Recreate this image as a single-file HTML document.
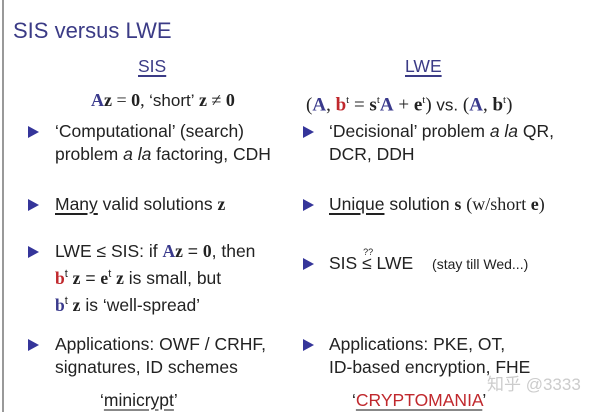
<!DOCTYPE html>
<html><head><meta charset="utf-8"><style>
body{margin:0;width:600px;height:412px;background:#fff;position:relative;overflow:hidden;font-family:"Liberation Sans","DejaVu Sans",sans-serif;color:#222;font-size:17.5px}
.a{position:absolute;white-space:nowrap;line-height:22px}
.m{font-family:"Liberation Serif",serif;font-size:18px}
.b{font-weight:bold;font-family:"Liberation Serif",serif}
.bl{color:#3a3a8c}.rd{color:#c0282d}
.tri{position:absolute;width:0;height:0;border-top:6px solid transparent;border-bottom:6px solid transparent;border-left:11px solid #35359a}
u{text-decoration-thickness:1.5px;text-underline-offset:3px}
sup{font-size:11px}
</style></head><body>
<div style="position:absolute;left:2px;top:0;width:2px;height:412px;background:#999"></div>
<div class="a" style="left:13px;top:18px;font-size:22px;line-height:26px;color:#3b3b86">SIS versus LWE</div>
<div class="a" style="left:138px;top:55px;color:#3b3b86"><u>SIS</u></div>
<div class="a" style="left:405px;top:55px;color:#3b3b86"><u>LWE</u></div>
<div class="a m" style="left:91px;top:89px"><span class="b bl">A</span><span class="b">z</span> = <span class="b">0</span>, <span style="font-family:'Liberation Sans',sans-serif;font-size:17px">‘short’</span> <span class="b">z</span> ≠ <span class="b">0</span></div>
<div class="a m" style="left:306px;top:89px;font-size:19px">(<span class="b bl">A</span>, <span class="b rd">b</span><sup>t</sup> = <span class="b">s</span><sup>t</sup><span class="b bl">A</span> + <span class="b">e</span><sup>t</sup>) <span style="font-family:'Liberation Sans',sans-serif;font-size:17px">vs.</span> (<span class="b bl">A</span>, <span class="b">b</span><sup>t</sup>)</div>

<div class="tri" style="left:28px;top:126px"></div>
<div class="a" style="left:55px;top:120px;line-height:23px">‘Computational’ (search)<br>problem <i>a la</i> factoring, CDH</div>
<div class="tri" style="left:303px;top:126px"></div>
<div class="a" style="left:329px;top:120px;line-height:23px">‘Decisional’ problem <i>a la</i> QR,<br>DCR, DDH</div>

<div class="tri" style="left:28px;top:199px"></div>
<div class="a" style="left:55px;top:193px"><u>Many</u> valid solutions <span class="b">z</span></div>
<div class="tri" style="left:303px;top:199px"></div>
<div class="a" style="left:329px;top:193px"><u>Unique</u> solution <span class="b">s</span> <span class="m">(w/short <span class="b">e</span>)</span></div>

<div class="tri" style="left:28px;top:246px"></div>
<div class="a" style="left:55px;top:240px;line-height:23px">LWE ≤ SIS: if <span class="b bl">A</span><span class="b">z</span> = <span class="b">0</span>, then<br><span class="b rd">b</span><sup>t</sup> <span class="b">z</span> = <span class="b">e</span><sup>t</sup> <span class="b">z</span> is small, but<br><span class="b bl">b</span><sup>t</sup> <span class="b">z</span> is ‘well-spread’</div>
<div class="tri" style="left:303px;top:258px"></div>
<div class="a" style="left:329px;top:252px">SIS <span style="position:relative">≤<span style="position:absolute;left:1px;top:-12px;font-size:9px">??</span></span> LWE <span style="font-size:14px;margin-left:14px">(stay till Wed...)</span></div>

<div class="tri" style="left:28px;top:339px"></div>
<div class="a" style="left:55px;top:333px;line-height:23px">Applications: OWF / CRHF,<br>signatures, ID schemes</div>
<div class="tri" style="left:303px;top:339px"></div>
<div class="a" style="left:329px;top:333px;line-height:23px">Applications: PKE, OT,<br>ID-based encryption, FHE</div>

<div class="a" style="left:100px;top:389px">‘<u style="text-decoration-color:#888">minicrypt</u>’</div>
<div class="a" style="left:352px;top:389px">‘<u class="rd" style="text-decoration-color:#888">CRYPTOMANIA</u>’</div>
<div class="a" style="left:487px;top:374px;color:#ccc;font-family:'Liberation Sans','Noto Sans CJK SC',sans-serif;font-size:17px">知乎 @3333</div>
</body></html>
